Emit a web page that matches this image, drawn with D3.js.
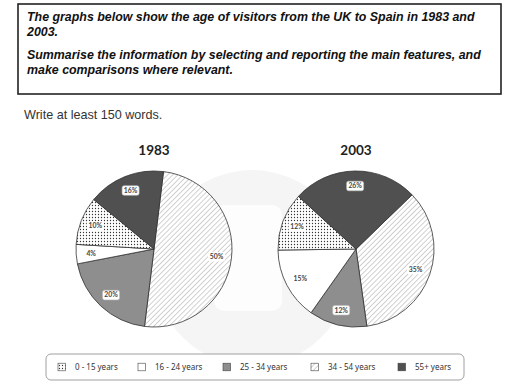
<!DOCTYPE html>
<html>
<head>
<meta charset="utf-8">
<script src="https://cdn.jsdelivr.net/npm/d3@7"></script>
<style>
  body { margin:0; background:#fff; }
  svg { display:block; }
</style>
</head>
<body>
<svg id="chart" width="512" height="391"></svg>
<script>
// ===== DATA =====
const categories = ["0 - 15 years", "16 - 24 years", "25 - 34 years", "34 - 54 years", "55+ years"];
const years = ["1983", "2003"];
const values1983 = [10, 4, 20, 50, 16];
const values2003 = [12, 15, 12, 35, 26];
const promptLines = [
  "The graphs below show the age of visitors from the UK to Spain in 1983 and",
  "2003.",
  "Summarise the information by selecting and reporting the main features, and",
  "make comparisons where relevant."
];
const wordNote = "Write at least 150 words.";

// ===== LAYOUT / STYLE =====
const sliceOrder = [3, 2, 1, 0, 4];          // clockwise from start
const startDeg = [7, 46];
const centers = [[154, 249], [356, 249]];
const R = 78;
const fills = ["url(#dots)", "#fff", "#8e8e8e", "url(#hatch)", "#505050"];
const boxed = [false, false, true, false, true];

const svg = d3.select("#chart");
const defs = svg.append("defs");

const hatch = defs.append("pattern").attr("id", "hatch").attr("patternUnits", "userSpaceOnUse")
  .attr("width", 3.6).attr("height", 3.6).attr("patternTransform", "rotate(45)");
hatch.append("rect").attr("width", 3.6).attr("height", 3.6).attr("fill", "#fff");
hatch.append("line").attr("x1", 0).attr("y1", 0).attr("x2", 0).attr("y2", 3.6)
  .attr("stroke", "#9a9a9a").attr("stroke-width", 0.9);

const dots = defs.append("pattern").attr("id", "dots").attr("patternUnits", "userSpaceOnUse")
  .attr("width", 3).attr("height", 3);
dots.append("rect").attr("width", 3).attr("height", 3).attr("fill", "#fff");
dots.append("circle").attr("cx", 1.5).attr("cy", 1.5).attr("r", 0.65).attr("fill", "#333");

// ===== WATERMARK =====
svg.append("circle").attr("cx", 252).attr("cy", 268).attr("r", 98).attr("fill", "#f5f5f5");
svg.append("rect").attr("x", 214).attr("y", 205).attr("width", 68).attr("height", 106).attr("rx", 10)
  .attr("fill", "#fff").attr("opacity", 0.8);

// ===== PROMPT BOX =====
svg.append("rect").attr("x", 18).attr("y", 4).attr("width", 483).attr("height", 90)
  .attr("fill", "#fff").attr("stroke", "#222").attr("stroke-width", 1.6);
const lineY = [21, 36, 59, 74];
svg.selectAll("text.prompt").data(promptLines).enter().append("text").attr("class", "prompt")
  .attr("x", 27).attr("y", (d, i) => lineY[i])
  .attr("font-family", "Liberation Sans, Arial, sans-serif").attr("font-size", 12.4)
  .attr("font-weight", "bold").attr("font-style", "italic").attr("fill", "#111")
  .text(d => d);
svg.append("text").attr("x", 24).attr("y", 119)
  .attr("font-family", "Liberation Sans, Arial, sans-serif").attr("font-size", 12.6)
  .attr("fill", "#333").text(wordNote);

// ===== PIES =====
const arc = d3.arc().innerRadius(0).outerRadius(R);
const labelArc = d3.arc().innerRadius(63).outerRadius(63);

[values1983, values2003].forEach((vals, k) => {
  const pie = d3.pie().sort(null).value(d => d.v)
    .startAngle(startDeg[k] * Math.PI / 180).endAngle(startDeg[k] * Math.PI / 180 + 2 * Math.PI);
  const data = sliceOrder.map(i => ({ i, v: vals[i] }));
  const g = svg.append("g").attr("transform", `translate(${centers[k][0]},${centers[k][1]})`);

  g.append("text").attr("x", 0).attr("y", -94).attr("text-anchor", "middle")
    .attr("font-family", "Lato, Noto Sans, sans-serif").attr("font-weight", "bold")
    .attr("font-size", 13.5).attr("fill", "#222").text(years[k]);

  const arcs = pie(data);
  g.selectAll("path").data(arcs).enter().append("path")
    .attr("d", arc).attr("fill", d => fills[d.data.i])
    .attr("stroke", "#333").attr("stroke-width", 0.8);

  const lab = g.selectAll("g.lab").data(arcs).enter().append("g").attr("class", "lab")
    .attr("transform", d => `translate(${labelArc.centroid(d)})`);
  lab.append("rect").attr("x", -8.5).attr("y", -4.8).attr("width", 17).attr("height", 9.6).attr("rx", 2)
    .attr("fill", d => d.data.i === 1 ? "none" : "#fff")
    .attr("stroke", d => boxed[d.data.i] ? "#bbb" : "none").attr("stroke-width", 0.6);
  lab.append("text").attr("text-anchor", "middle").attr("dy", "0.35em")
    .attr("font-family", "Lato, Noto Sans, sans-serif").attr("font-size", 6.8).attr("font-weight", "bold")
    .attr("fill", "#444").text(d => d.data.v + "%");
});

// ===== LEGEND =====
svg.append("rect").attr("x", 46).attr("y", 354).attr("width", 418).attr("height", 26).attr("rx", 5)
  .attr("fill", "#fff").attr("stroke", "#888").attr("stroke-width", 0.8);
const legendX = [58, 138, 223, 311, 398];
const leg = svg.selectAll("g.leg").data(categories).enter().append("g").attr("class", "leg")
  .attr("transform", (d, i) => `translate(${legendX[i]},367)`);
leg.append("rect").attr("x", 0).attr("y", -3.8).attr("width", 7.6).attr("height", 7.6)
  .attr("fill", (d, i) => fills[i]).attr("stroke", "#444").attr("stroke-width", 0.6);
leg.append("text").attr("x", 17).attr("dy", "0.35em")
  .attr("font-family", "Noto Sans, sans-serif").attr("font-size", 8).attr("fill", "#333")
  .text(d => d);
</script>
</body>
</html>
